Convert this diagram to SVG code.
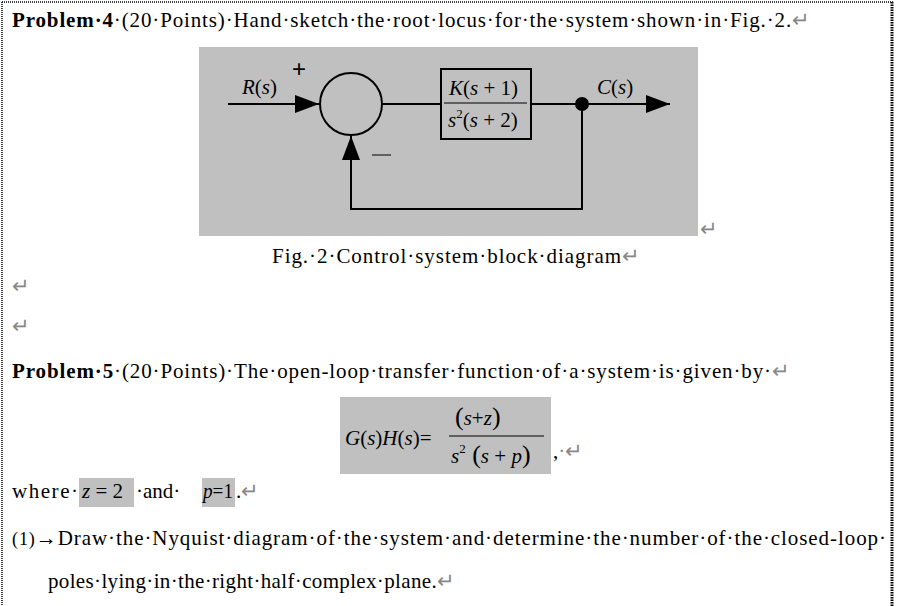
<svg xmlns="http://www.w3.org/2000/svg" width="898" height="606" viewBox="0 0 898 606">
<style>
text{font-family:"Liberation Serif","Times New Roman",serif;font-size:21px;fill:#000}
.b{font-weight:bold}
.i{font-style:italic}
.m{fill:#888}
.ln{stroke:#000;stroke-width:2;fill:none}
</style>
<defs>
<marker id="A" viewBox="0 0 24 18" markerWidth="24" markerHeight="18" refX="24" refY="9" orient="auto" markerUnits="userSpaceOnUse"><path d="M0,0L24,9L0,18z" fill="#000"/></marker></defs>
<rect width="898" height="606" fill="#fff"/>
<line x1="2" y1="2" x2="894" y2="2" stroke="#000" stroke-width="1.5" stroke-dasharray="1 1"/>
<line x1="2" y1="2" x2="2" y2="606" stroke="#000" stroke-width="1.5" stroke-dasharray="1 1"/>
<line x1="892" y1="2" x2="892" y2="606" stroke="#000" stroke-width="3" stroke-dasharray="1.5 1"/>
<text x="12" y="27" textLength="798" lengthAdjust="spacing"><tspan class="b">Problem·4</tspan>·(20·Points)·Hand·sketch·the·root·locus·for·the·system·shown·in·Fig.·2.<tspan class="m">↵</tspan></text>
<rect x="199" y="47" width="499" height="189" fill="#c0c0c0"/>
<g id="connectors">
<line class="ln" x1="228" y1="104" x2="319" y2="104" marker-end="url(#A)"/>
<line class="ln" x1="382" y1="104" x2="441" y2="104"/>
<line class="ln" x1="531" y1="104" x2="670" y2="104" marker-end="url(#A)"/>
<polyline class="ln" points="582,104 582,209 351,209 351,136" marker-end="url(#A)"/>
<circle cx="582" cy="104" r="7" fill="#000"/>
</g>
<g id="sum"><circle class="ln" cx="351" cy="104" r="31"/>
<text x="292" y="77" style="font-family:'Liberation Sans',sans-serif;font-size:24px">+</text>
<line x1="372" y1="155" x2="391" y2="155" stroke="#000" stroke-width="1"/></g>
<g id="plant"><rect class="ln" x="441" y="69" width="90" height="70"/>
<text x="449" y="95" font-size="22"><tspan class="i">K</tspan>(<tspan class="i">s</tspan> + 1)</text>
<line x1="444" y1="103" x2="527" y2="103" stroke="#000" stroke-width="1"/>
<text x="448" y="127" font-size="22"><tspan class="i">s</tspan><tspan font-size="13" dy="-9">2</tspan><tspan dy="9">(</tspan><tspan class="i">s</tspan> + 2)</text></g>
<text x="242" y="94" font-size="23"><tspan class="i">R</tspan>(<tspan class="i">s</tspan>)</text>
<text x="597" y="94" font-size="23"><tspan class="i">C</tspan>(<tspan class="i">s</tspan>)</text>
<text x="700" y="236" class="m" font-size="14">↵</text>
<text x="272" y="263" textLength="368" lengthAdjust="spacing">Fig.·2·Control·system·block·diagram<tspan class="m">↵</tspan></text>
<text x="12" y="293" class="m">↵</text>
<text x="12" y="333" class="m">↵</text>
<text x="12" y="378" textLength="778" lengthAdjust="spacing"><tspan class="b">Problem·5</tspan>·(20·Points)·The·open-loop·transfer·function·of·a·system·is·given·by·<tspan class="m">↵</tspan></text>
<rect x="340" y="397" width="211" height="77" fill="#c0c0c0"/>
<text x="345" y="445"><tspan class="i">G</tspan>(<tspan class="i">s</tspan>)<tspan class="i">H</tspan>(<tspan class="i">s</tspan>)=</text>
<text x="455" y="425" font-size="22"><tspan font-size="26">(</tspan><tspan class="i">s</tspan>+<tspan class="i">z</tspan><tspan font-size="26">)</tspan></text>
<line x1="449" y1="436" x2="544" y2="436" stroke="#000" stroke-width="1"/>
<text x="451" y="463" font-size="22"><tspan class="i">s</tspan><tspan font-size="13" dy="-10">2</tspan><tspan dy="10" font-size="26"> (</tspan><tspan class="i">s</tspan> + <tspan class="i">p</tspan><tspan font-size="26">)</tspan></text>
<text x="553" y="458">,<tspan class="m">·↵</tspan></text>
<rect x="79" y="478" width="55" height="29" fill="#c0c0c0"/>
<rect x="202" y="478" width="33" height="29" fill="#c0c0c0"/>
<text x="12" y="498" textLength="66" lengthAdjust="spacing">where·</text>
<text x="82" y="498"><tspan class="i">z</tspan> = 2</text>
<text x="136" y="498">·and·</text>
<text x="203" y="498" textLength="30" lengthAdjust="spacingAndGlyphs"><tspan class="i">p</tspan>=1</text>
<text x="236" y="498">.<tspan class="m">↵</tspan></text>
<text x="12" y="545" textLength="874" lengthAdjust="spacing"><tspan font-size="18">(1)</tspan>→Draw·the·Nyquist·diagram·of·the·system·and·determine·the·number·of·the·closed-loop·</text>
<text x="48" y="588" textLength="407" lengthAdjust="spacing">poles·lying·in·the·right·half·complex·plane.<tspan class="m">↵</tspan></text>
</svg>
